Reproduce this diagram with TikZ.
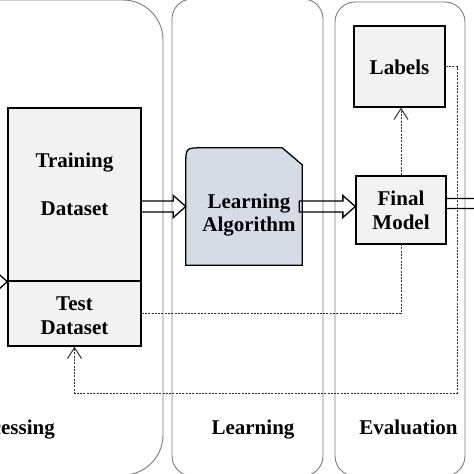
\documentclass[tikz,border=0pt]{standalone}
\usepackage{fontspec}
\setmainfont{Liberation Serif}
\usetikzlibrary{arrows.meta,calc}
\definecolor{boxfill}{HTML}{F2F2F2}
\definecolor{algfill}{HTML}{D6DCE5}
\definecolor{panelline}{HTML}{7A7A7A}
\definecolor{dashcol}{HTML}{303030}
\begin{document}
\begin{tikzpicture}[x=1pt,y=-1pt,
  every node/.style={font=\fontsize{21}{24}\selectfont\bfseries, inner sep=0pt},
  panel/.style={draw=panelline, line width=0.9pt},
  box/.style={draw=black, line width=1.3pt, fill=boxfill},
  hollow/.style={draw=black, line width=1.3pt, line join=miter},
  fb/.style={draw=dashcol, line width=1pt, dash pattern=on 2pt off 1.3pt},
  barb/.style={-{Straight Barb[length=11pt,width=14pt,line width=1pt]}}
]
\useasboundingbox (0,0) rectangle (474,474);
% panels
\draw[panel, rounded corners=40pt] (-120,0) rectangle (163,475);
\draw[panel, rounded corners=20pt] (172,-1) rectangle (323,476);
\draw[panel, rounded corners=20pt] (335,2) rectangle (465,476);
% dataset boxes
\node[box, minimum width=133pt, minimum height=173pt] (train) at (74.5,194.5) {};
\node[box, minimum width=133pt, minimum height=65pt] (test) at (74.5,313.5) {};
\node[anchor=base] (t1) at (74.5,167) {Training};
\node[anchor=base] (t2) at (74.5,215) {Dataset};
\node[anchor=base] (t3) at (74.5,310) {Test};
\node[anchor=base] (t4) at (74.5,334) {Dataset};
% learning algorithm
\node[minimum width=116pt, minimum height=117pt] (learn) at (244,206.5) {};
\draw[box, fill=algfill] (learn.south west) -- ($(learn.north west)+(0,17)$)
  .. controls (learn.north west) .. ($(learn.north west)+(17,0)$)
  -- ($(learn.north east)+(-20,0)$) -- ($(learn.north east)+(0,17)$)
  -- (learn.south east) -- cycle;
\node[anchor=base] (l1) at (249,208) {Learning};
\node[anchor=base] (l2) at (249,231) {Algorithm};
% final model and labels
\node[box, minimum width=90pt, minimum height=68pt] (final) at (401,210) {};
\node[anchor=base] (f1) at (401,205) {Final};
\node[anchor=base] (f2) at (401,229.5) {Model};
\node[box, minimum width=91pt, minimum height=81pt] (labels) at (399.5,66.5) {};
\node[anchor=base] (lb) at (399.5,74) {Labels};
% hollow arrows
\coordinate (inL) at (-60,281);
\draw[hollow] ($(inL)+(0,-5.5)$) -- ($(train.south west)+(-12.5,-5.5)$) -- ++(0,-5.5)
  -- (train.south west) -- ($(train.south west)+(-12.5,11)$) -- ++(0,-5.5) -- ($(inL)+(0,5.5)$);
\draw[hollow] ($(train.east |- learn.west)+(0,-5.5)$) -- ($(learn.west)+(-12.5,-5.5)$) -- ++(0,-5.5)
  -- (learn.west) -- ($(learn.west)+(-12.5,11)$) -- ++(0,-5.5) -- ($(train.east |- learn.west)+(0,5.5)$);
\draw[hollow] ($(learn.east)+(-3,-5.5)$) -- ($(final.west |- learn.east)+(-12.5,-5.5)$) -- ++(0,-5.5)
  -- (final.west |- learn.east) -- ($(final.west |- learn.east)+(-12.5,11)$) -- ++(0,-5.5)
  -- ($(learn.east)+(-3,5.5)$) -- cycle;
\coordinate (outR) at (540,203.5);
\draw[hollow] ($(final.east |- outR)+(0,-5)$) -- ($(outR)+(-12.5,-5)$) -- ++(0,-6)
  -- (outR) -- ($(outR)+(-12.5,11)$) -- ++(0,-6) -- ($(final.east |- outR)+(0,5)$);
% dashed feedback
\draw[fb, barb] (final.north) -- (final.north |- labels.south);
\coordinate (fbc) at (457,393);
\draw[fb, barb] (labels.east) -| (fbc) -| (test.south);
\draw[fb] (test.east) -| (final.south);
% phase labels
\node[anchor=base east] (pre) at (55,434) {Processing};
\node[anchor=base] (lrn) at (253,434) {Learning};
\node[anchor=base] (eva) at (408.5,434) {Evaluation};
\end{tikzpicture}
\end{document}
